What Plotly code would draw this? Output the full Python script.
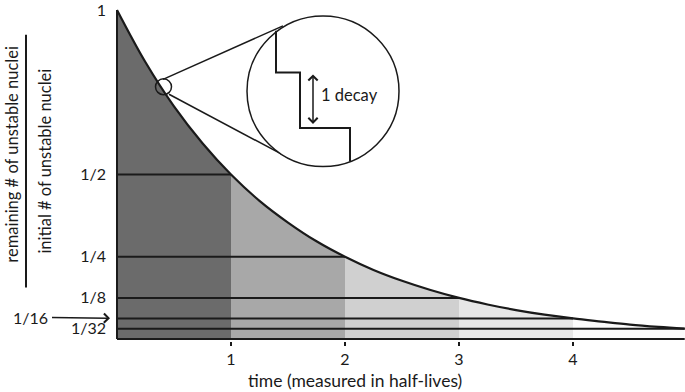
import plotly.graph_objects as go

# ---- data ----
time_hl = [0, 0.25, 0.5, 0.75, 1, 1.25, 1.5, 1.75, 2, 2.25, 2.5, 2.75, 3,
           3.25, 3.5, 3.75, 4, 4.25, 4.5, 4.75, 4.98]
remaining = [1.0, 0.841, 0.707, 0.595, 0.5, 0.420, 0.354, 0.297, 0.25, 0.210, 0.177,
             0.149, 0.125, 0.105, 0.088, 0.074, 0.0625, 0.053, 0.044, 0.037, 0.0317]
band_starts = [0, 1, 2, 3, 4]
band_colors = ["#6b6b6b", "#a8a8a8", "#d0d0d0", "#e7e7e7", "#fbfbfb"]
level_values = [1/2, 1/4, 1/8, 1/16, 1/32]
level_ends = [1, 2, 3, 4, 4.98]
ytick_vals = [1, 1/2, 1/4, 1/8, 1/32]
ytick_text = ["1", "1/2", "1/4", "1/8", "1/32"]
xtick_vals = [1, 2, 3, 4]

W, H = 685, 392
L, R, T, B = 115, 0, 5, 51
PW, PH = W - L - R, H - T - B
XU, X0 = 114.0, 117.0   # px per unit / px of x=0
YU, Y0 = 332.0, 339.0   # px per unit / px of y=0
xr = [(L - X0) / XU, (W - R - X0) / XU]
yr = [(Y0 - (H - B)) / YU, (Y0 - T) / YU]

def dx(px):
    return (px - X0) / XU

def dy(py):
    return (Y0 - py) / YU

def paper_x(px):
    return (px - L) / PW

def paper_y(py):
    return (H - B - py) / PH

FONT = "Lato"
INK = "#1a1a1a"

fig = go.Figure()

# shaded half-life bands under the curve
for k, col in zip(band_starts, band_colors):
    xs = [t for t in time_hl if k <= t <= k + 1]
    ys = [v for t, v in zip(time_hl, remaining) if k <= t <= k + 1]
    fig.add_trace(go.Scatter(x=xs, y=ys, mode="lines", fill="tozeroy",
                             fillcolor=col, line=dict(width=0, color=col, shape="spline"),
                             hoverinfo="skip", showlegend=False))

# horizontal level lines + baseline + left edge
hx, hy = [], []
for v, e in zip(level_values, level_ends):
    hx += [0, e, None]
    hy += [v, v, None]
hx += [0, level_ends[-1], None, 0, 0]
hy += [0, 0, None, 0, 1]
fig.add_trace(go.Scatter(x=hx, y=hy, mode="lines", line=dict(color=INK, width=2),
                         hoverinfo="skip", showlegend=False))

# decay curve
fig.add_trace(go.Scatter(x=time_hl, y=remaining, mode="lines",
                         line=dict(color=INK, width=2.2, shape="spline"),
                         hoverinfo="skip", showlegend=False))

# ---- magnifier ----
shapes = []
shapes.append(dict(type="circle", xref="x", yref="y",
                   x0=dx(155.5), x1=dx(171.5), y0=dy(92.5), y1=dy(76.5),
                   line=dict(color=INK, width=1.5)))
shapes.append(dict(type="line", xref="x", yref="y", x0=dx(163), y0=dy(77),
                   x1=dx(283), y1=dy(23), line=dict(color=INK, width=1.5)))
shapes.append(dict(type="line", xref="x", yref="y", x0=dx(169), y0=dy(92),
                   x1=dx(290), y1=dy(157), line=dict(color=INK, width=1.5)))
shapes.append(dict(type="circle", xref="x", yref="y",
                   x0=dx(247), x1=dx(399), y0=dy(165), y1=dy(13),
                   fillcolor="white", line=dict(color=INK, width=1.5)))
stair = [(276, 28), (276, 70), (300, 70), (300, 126), (350, 126), (350, 160)]
path = "M " + " L ".join(f"{dx(a):.4f},{dy(b):.4f}" for a, b in stair)
shapes.append(dict(type="path", xref="x", yref="y", path=path,
                   line=dict(color=INK, width=2)))
# fraction bar of y title
shapes.append(dict(type="line", xref="paper", yref="paper",
                   x0=paper_x(26), x1=paper_x(26), y0=paper_y(32), y1=paper_y(287),
                   line=dict(color=INK, width=2)))

annotations = []
annotations.append(dict(x=dx(313), y=dy(72), ax=0, ay=51, xref="x", yref="y",
                        text="", showarrow=True, arrowside="end+start",
                        arrowhead=4, startarrowhead=4, arrowsize=1.2, startarrowsize=1.2,
                        arrowwidth=1.5, arrowcolor=INK))
annotations.append(dict(x=paper_x(349.5), y=paper_y(93), xref="paper", yref="paper",
                        xanchor="center", yanchor="middle",
                        text="1 decay", showarrow=False,
                        font=dict(family=FONT, size=16.5, color=INK)))
# 1/16 label with arrow
annotations.append(dict(x=paper_x(110), y=paper_y(318), xref="paper", yref="paper",
                        text="1/16", showarrow=True, ax=-80, ay=-1, borderpad=4,
                        xanchor="center", yanchor="middle",
                        arrowhead=4, arrowsize=1.2, arrowwidth=1.5, arrowcolor=INK,
                        font=dict(family=FONT, size=16, color=INK)))
# y title
annotations.append(dict(x=paper_x(12), y=paper_y(153), xref="paper", yref="paper",
                        xanchor="center", yanchor="middle",
                        text="remaining # of unstable nuclei", textangle=-90,
                        showarrow=False, font=dict(family=FONT, size=16.5, color=INK)))
annotations.append(dict(x=paper_x(45), y=paper_y(160), xref="paper", yref="paper",
                        xanchor="center", yanchor="middle",
                        text="initial # of unstable nuclei", textangle=-90,
                        showarrow=False, font=dict(family=FONT, size=16.5, color=INK)))
# x title
annotations.append(dict(x=paper_x(355), y=paper_y(381), xref="paper", yref="paper",
                        xanchor="center", yanchor="middle",
                        text="time (measured in half-lives)",
                        showarrow=False, font=dict(family=FONT, size=17.5, color=INK)))

fig.update_layout(
    width=W, height=H,
    margin=dict(l=L, r=R, t=T, b=B),
    paper_bgcolor="white", plot_bgcolor="white",
    shapes=shapes, annotations=annotations,
    xaxis=dict(range=xr, showgrid=False, zeroline=False, showline=False,
               tickmode="array", tickvals=xtick_vals,
               ticks="outside", ticklen=4, tickwidth=1.5, tickcolor=INK,
               tickfont=dict(family=FONT, size=16, color=INK)),
    yaxis=dict(range=yr, showgrid=False, zeroline=False, showline=False,
               tickmode="array", tickvals=ytick_vals, ticktext=ytick_text,
               ticks="", ticklabelstandoff=8, ticklabeloverflow="allow",
               tickfont=dict(family=FONT, size=16, color=INK)),
)

fig.write_html("out.html", config={"displayModeBar": False},
               post_script="document.body.style.margin='0';document.body.style.padding='0';")
